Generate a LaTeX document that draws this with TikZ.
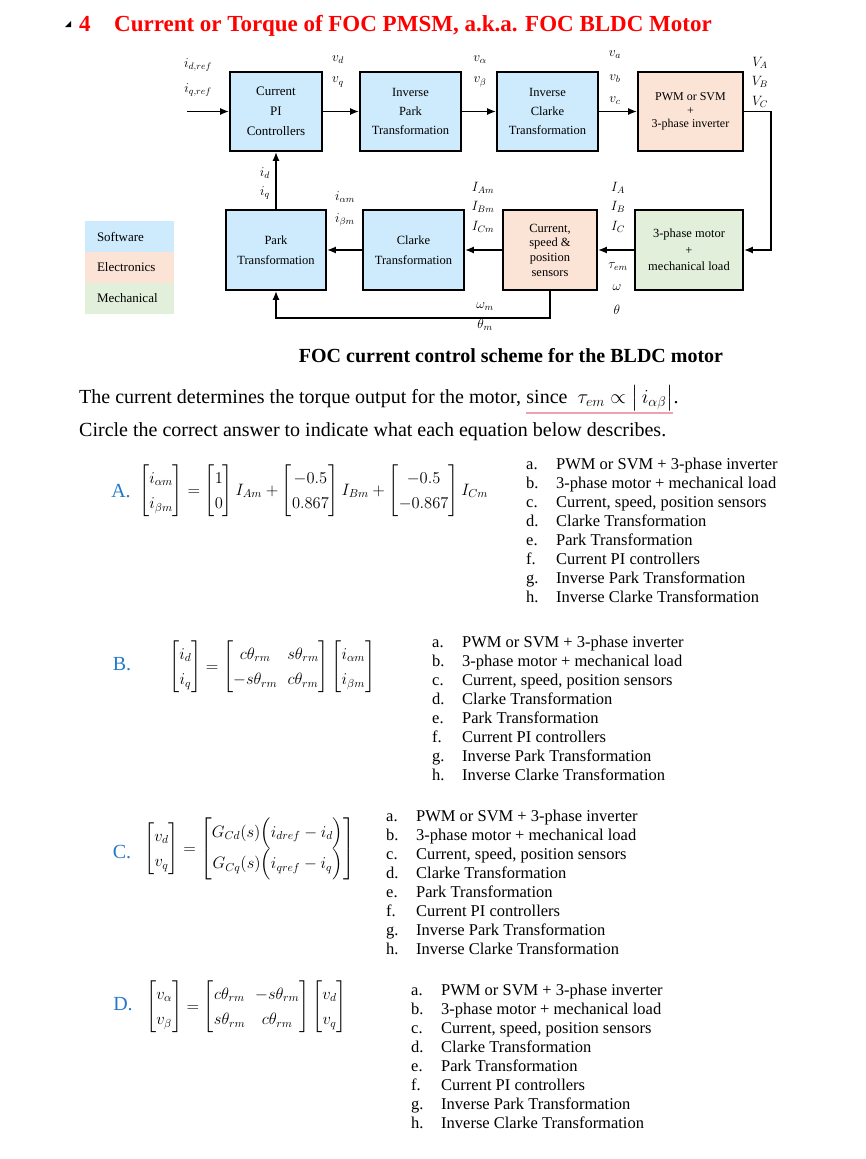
\RequirePackage{fix-cm}
\documentclass[tikz,border=0pt]{standalone}
\usepackage{amsmath}
\usepackage{fontspec}
\setmainfont{Liberation Serif}
\usetikzlibrary{arrows.meta,calc}
\definecolor{swc}{RGB}{205,235,252}
\definecolor{elc}{RGB}{251,228,214}
\definecolor{mec}{RGB}{226,239,218}
\definecolor{ttl}{RGB}{255,0,0}
\definecolor{ltr}{RGB}{36,122,200}
\definecolor{pinkline}{RGB}{240,160,180}
\newcommand\choicelist{%
\begin{tabular}{@{}p{30pt}@{}l@{}}
a.&PWM or SVM + 3-phase inverter\\
b.&3-phase motor + mechanical load\\
c.&Current, speed, position sensors\\
d.&Clarke Transformation\\
e.&Park Transformation\\
f.&Current PI controllers\\
g.&Inverse Park Transformation\\
h.&Inverse Clarke Transformation
\end{tabular}}
\tikzset{
  blk/.style={draw, line width=1.6pt, align=center, inner sep=0pt, minimum height=79pt},
  arr/.style={-{Latex[length=9pt,width=7pt]}, line width=1.8pt},
  lbl/.style={inner sep=0pt, font=\fontsize{13.5}{13.5}\selectfont},
  legendbox/.style={inner xsep=12pt, inner ysep=0pt, minimum width=89pt, minimum height=31pt, text width=65pt, align=left, font=\fontsize{13}{13}\selectfont},
  eqn/.style={inner sep=0pt, anchor=west, font=\fontsize{16.5}{19.5}\selectfont\renewcommand{\arraystretch}{1.3}},
  letter/.style={inner sep=0pt, text=ltr, font=\fontsize{20}{20}\selectfont},
  choices/.style={inner sep=0pt, anchor=north west, font=\fontsize{16.5}{19}\selectfont},
  body/.style={inner sep=0pt, anchor=base west, font=\fontsize{20}{24}\selectfont}
}
\begin{document}
\begin{tikzpicture}[x=1pt,y=-1pt]
\useasboundingbox[fill=white] (0,0) rectangle (865,1159);
% title
\fill (65,27) -- (71,27) -- (71,21) -- cycle;
\node[inner sep=0pt, anchor=base west, text=ttl, font=\fontsize{23}{23}\selectfont\bfseries] (num) at (79,31) {4};
\node[inner sep=0pt, anchor=base west, text=ttl, font=\fontsize{23}{23}\selectfont\bfseries] (title) at (114,31) {Current or Torque of FOC PMSM, a.k.a. FOC BLDC Motor};
% blocks
\node[blk, fill=swc, minimum width=92pt, font=\fontsize{13}{20}\selectfont] (pi) at (276,111.5) {Current\\PI\\Controllers};
\node[blk, fill=swc, minimum width=101pt, font=\fontsize{12.5}{19}\selectfont] (ipark) at (410.5,111.5) {Inverse\\Park\\Transformation};
\node[blk, fill=swc, minimum width=101pt, font=\fontsize{12.5}{19}\selectfont] (iclarke) at (547.5,111.5) {Inverse\\Clarke\\Transformation};
\node[blk, fill=elc, minimum width=105pt, font=\fontsize{12}{13.5}\selectfont] (pwm) at (690.5,111.5) {PWM or SVM\\+\\3-phase inverter};
\node[blk, fill=mec, minimum width=108pt, minimum height=80pt, font=\fontsize{12.5}{16.5}\selectfont] (motor) at (689,250) {3-phase motor\\+\\mechanical load};
\node[blk, fill=elc, minimum width=94pt, minimum height=80pt, font=\fontsize{12.5}{14.7}\selectfont] (sens) at (550,250) {Current,\\speed \&\\position\\sensors};
\node[blk, fill=swc, minimum width=101pt, minimum height=80pt, font=\fontsize{12.5}{20}\selectfont] (clarke) at (413.5,250) {Clarke\\Transformation};
\node[blk, fill=swc, minimum width=100pt, minimum height=80pt, font=\fontsize{12.5}{20}\selectfont] (park) at (276,250) {Park\\Transformation};
% legend
\node[legendbox, fill=swc] (lsw) at (129.5,236.5) {Software};
\node[legendbox, fill=elc] (lel) at (129.5,267.5) {Electronics};
\node[legendbox, fill=mec] (lme) at (129.5,298.5) {Mechanical};
% connectors
\coordinate (in) at (187,111.5);
\draw[arr] (in) -- (pi.west);
\draw[arr] (pi.east) -- (ipark.west);
\draw[arr] (ipark.east) -- (iclarke.west);
\draw[arr] (iclarke.east) -- (pwm.west);
\draw[arr] (pwm.east) -- ++(27,0) |- (motor.east);
\draw[arr] (motor.west) -- (sens.east);
\draw[arr] (sens.west) -- (clarke.east);
\draw[arr] (clarke.west) -- (park.east);
\draw[arr] (park.north) -- (pi.south);
\draw[arr] (sens.south) -- ++(0,27) -| (park.south);
% signal labels
\node[lbl] (l1) at (198,65) {$i_{d,ref}$};
\node[lbl] (l2) at (198,90) {$i_{q,ref}$};
\node[lbl] (l3) at (338,60) {$v_d$};
\node[lbl] (l4) at (338,82) {$v_q$};
\node[lbl] (l5) at (480,60) {$v_\alpha$};
\node[lbl] (l6) at (480,82) {$v_\beta$};
\node[lbl] (l7) at (615,55) {$v_a$};
\node[lbl] (l8) at (615,79) {$v_b$};
\node[lbl] (l9) at (615,101) {$v_c$};
\node[lbl] (l10) at (760,63) {$V_A$};
\node[lbl] (l11) at (760,82) {$V_B$};
\node[lbl] (l12) at (760,102) {$V_C$};
\node[lbl] (l13) at (265,173) {$i_d$};
\node[lbl] (l14) at (265,193) {$i_q$};
\node[lbl] (l15) at (345,197) {$i_{\alpha m}$};
\node[lbl] (l16) at (345,220) {$i_{\beta m}$};
\node[lbl] (l17) at (483,188) {$I_{Am}$};
\node[lbl] (l18) at (483,207) {$I_{Bm}$};
\node[lbl] (l19) at (483,227) {$I_{Cm}$};
\node[lbl] (l20) at (618,188) {$I_A$};
\node[lbl] (l21) at (618,207) {$I_B$};
\node[lbl] (l22) at (618,227) {$I_C$};
\node[lbl] (l23) at (618,267) {$\tau_{em}$};
\node[lbl] (l24) at (617,288) {$\omega$};
\node[lbl] (l25) at (617,310) {$\theta$};
\node[lbl] (l26) at (485,307) {$\omega_m$};
\node[lbl] (l27) at (485,325) {$\theta_m$};
% caption and text
\node[inner sep=0pt, anchor=base, font=\fontsize{20}{24}\selectfont\bfseries] (cap) at (511,362) {FOC current control scheme for the BLDC motor};
\node[body] (b1a) at (79,403) {The current determines the torque output for the motor,};
\node[body] (b1b) at ([xshift=5pt]b1a.base east) {since \ $\tau_{em}\propto\smash{\bigl|}\,i_{\alpha\beta}\smash{\bigr|}$};
\node[body] (b1c) at (b1b.base east) {.};
\draw[pinkline, line width=2.5pt] ([yshift=-10pt]b1b.base west) -- ([yshift=-10pt]b1b.base east);
\node[body] (b2) at (79,436) {Circle the correct answer to indicate what each equation below describes.};
% question A
\node[letter] (lA) at (121,491) {A.};
\node[eqn] (eqA) at (139,491) {$\begin{bmatrix} i_{\alpha m}\\ i_{\beta m}\end{bmatrix}=\begin{bmatrix}1\\0\end{bmatrix}I_{Am}+\begin{bmatrix}-0.5\\0.867\end{bmatrix}I_{Bm}+\begin{bmatrix}-0.5\\-0.867\end{bmatrix}I_{Cm}$};
\node[choices] (chA) at (526,456) {\choicelist};
% question B
\node[letter] (lB) at (122,664) {B.};
\node[eqn] (eqB) at (169,667) {$\begin{bmatrix} i_d\\ i_q\end{bmatrix}=\begin{bmatrix}c\theta_{rm} & s\theta_{rm}\\ -s\theta_{rm} & c\theta_{rm}\end{bmatrix}\begin{bmatrix} i_{\alpha m}\\ i_{\beta m}\end{bmatrix}$};
\node[choices] (chB) at (432,634) {\choicelist};
% question C
\node[letter] (lC) at (122,852) {C.};
\node[eqn] (eqC) at (144,849) {$\begin{bmatrix} v_d\\ v_q\end{bmatrix}=\begin{bmatrix}G_{Cd}(s)\Bigl(i_{dref}-i_d\Bigr)\\[4pt] G_{Cq}(s)\Bigl(i_{qref}-i_q\Bigr)\end{bmatrix}$};
\node[choices] (chC) at (386,808) {\choicelist};
% question D
\node[letter] (lD) at (123,1004) {D.};
\node[eqn] (eqD) at (146,1007) {$\begin{bmatrix} v_\alpha\\ v_\beta\end{bmatrix}=\begin{bmatrix}c\theta_{rm} & -s\theta_{rm}\\ s\theta_{rm} & c\theta_{rm}\end{bmatrix}\begin{bmatrix} v_d\\ v_q\end{bmatrix}$};
\node[choices] (chD) at (411,982) {\choicelist};
\end{tikzpicture}
\end{document}
